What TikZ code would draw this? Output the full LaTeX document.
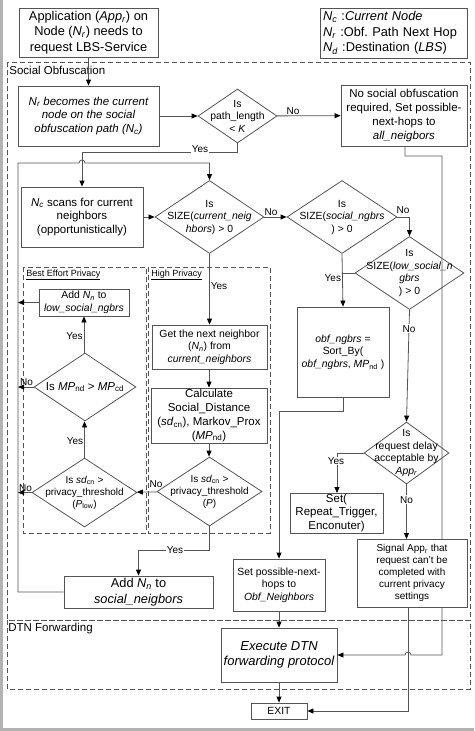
\documentclass[tikz,border=0pt]{standalone}
\usepackage{fontspec}
\setmainfont{Liberation Sans}
\usetikzlibrary{shapes.geometric,arrows.meta}
\definecolor{linegray}{gray}{0.33}
\newcommand{\fbig}{\fontsize{12.8}{15.4}\selectfont}
\newcommand{\fmid}{\fontsize{11.5}{13.8}\selectfont}
\newcommand{\fsml}{\fontsize{10.4}{12.5}\selectfont}
\newcommand{\ftny}{\fontsize{10}{12}\selectfont}
\newcommand{\Nsb}[1]{\textit{N}\textsubscript{\textit{#1}}}
\tikzstyle{box}=[draw=linegray,fill=white,inner sep=0pt,align=center]
\tikzstyle{decision}=[diamond,draw=linegray,inner sep=0pt]
\tikzstyle{dtext}=[inner sep=0pt,align=center,font=\fsml]
\tikzstyle{lab}=[inner sep=1pt,font=\ftny]
\tikzstyle{region}=[draw=linegray,dash pattern=on 5pt off 3pt]

\begin{document}
\begin{tikzpicture}[x=1pt,y=-1pt,line width=0.8pt,
    conn/.style={draw=linegray,-{Triangle[length=6pt,width=5pt,color=black]}},
    link/.style={draw=linegray}]
    \useasboundingbox (0,0) rectangle (474,731);
    \draw[gray!60,line width=3pt] (1.5,0) -- (1.5,729.5) -- (474,729.5);

    \draw[region] (7,62) rectangle (470,620);
    \draw[region] (7,620) rectangle (470,689);
    \draw[region] (23,267) rectangle (146,533);
    \draw[region] (148,267) rectangle (270,533);
    \node[anchor=west,inner sep=0pt,font=\fmid] (lsoc) at (9,70) {Social Obfuscation};
    \node[anchor=west,inner sep=0pt,font=\fmid] (ldtn) at (8,629) {DTN Forwarding};
    \node[anchor=west,inner sep=0pt,font=\fontsize{9}{11}\selectfont] (lbest) at (26,275) {\underline{Best Effort Privacy}};
    \node[anchor=west,inner sep=0pt,font=\fontsize{9}{11}\selectfont] (lhigh) at (151,275) {\underline{High Privacy}};

    \node[box,font=\fbig,minimum width=139pt,minimum height=49pt] (app) at (88.5,32.5)
        {Application (\textit{App}\textsubscript{\textit{r}}) on\\Node (\Nsb{r}) needs to\\request LBS-Service};
    \node[box,font=\fbig,text width=141pt,inner sep=3pt,align=left,minimum height=50pt] (legend) at (393.5,33)
        {\Nsb{c} :\textit{Current Node}\\\Nsb{r} :Obf.\ Path Next Hop\\\Nsb{d} :Destination (\textit{LBS})};

    \node[box,font=\fmid\itshape,minimum width=141pt,minimum height=60pt] (nr) at (88.5,116)
        {\Nsb{r} becomes the current\\node on the social\\obfuscation path (\Nsb{c})};
    \node[decision,minimum width=79pt,minimum height=54pt] (path) at (237.5,116) {};
    \node[dtext] (patht) at (path) {Is\\path\_length\\< \textit{K}};
    \node[box,font=\fmid,minimum width=126pt,minimum height=61pt] (noobf) at (404,115.5)
        {No social obfuscation\\required, Set possible-\\next-hops to\\\textit{all\_neigbors}};

    \node[box,font=\fmid,minimum width=122pt,minimum height=60pt] (scan) at (82,217)
        {\Nsb{c} scans for current\\neighbors\\(opportunistically)};
    \node[decision,minimum width=109pt,minimum height=73pt] (cur) at (209.5,217) {};
    \node[dtext] (curt) at (cur) {Is\\SIZE(\textit{current\_neig}\\\textit{hbors}) > 0};
    \node[decision,minimum width=110pt,minimum height=73pt] (soc) at (342,217) {};
    \node[dtext] (soct) at (soc) {Is\\SIZE(\textit{social\_ngbrs}\\) > 0};
    \node[decision,minimum width=109pt,minimum height=73pt] (low) at (409.5,273) {};
    \node[dtext] (lowt) at (low) {Is\\SIZE(\textit{low\_social\_n}\\\textit{gbrs}\\) > 0};

    \node[box,font=\fsml,minimum width=90pt,minimum height=27pt] (addlow) at (84,302.5)
        {Add \Nsb{n} to\\\textit{low\_social\_ngbrs}};
    \node[decision,minimum width=102pt,minimum height=68pt] (mp) at (85,387) {};
    \node[dtext,font=\fmid] (mpt) at (mp) {Is \textit{MP}\textsubscript{nd} > \textit{MP}\textsubscript{cd}};
    \node[decision,minimum width=105pt,minimum height=69pt] (sdlow) at (84.5,492.5) {};
    \node[dtext,font=\ftny] (sdlowt) at (sdlow) {Is \textit{sd}\textsubscript{cn} >\\privacy\_threshold\\(\textit{P}\textsubscript{low})};

    \node[box,font=\fsml,minimum width=115pt,minimum height=44pt] (next) at (209.5,347)
        {Get the next neighbor\\(\Nsb{n}) from\\\textit{current\_neighbors}};
    \node[box,font=\fmid,minimum width=116pt,minimum height=55pt] (calc) at (209,415.5)
        {Calculate\\Social\_Distance\\(\textit{sd}\textsubscript{cn}), Markov\_Prox\\(\textit{MP}\textsubscript{nd})};
    \node[decision,minimum width=105pt,minimum height=69pt] (sdp) at (209.5,491.5) {};
    \node[dtext,font=\ftny] (sdpt) at (sdp) {Is \textit{sd}\textsubscript{cn} >\\privacy\_threshold\\(\textit{P})};
    \node[box,font=\fbig,minimum width=149pt,minimum height=32pt] (addsoc) at (138.5,592)
        {Add \Nsb{n} to\\\textit{social\_neigbors}};

    \node[box,font=\fsml,minimum width=92pt,minimum height=90pt] (obf) at (343,352)
        {\textit{obf\_ngbrs} =\\Sort\_By(\\\textit{obf\_ngbrs}, \textit{MP}\textsubscript{nd} )};
    \node[decision,minimum width=85pt,minimum height=62pt] (delay) at (406.5,453) {};
    \node[dtext] (delayt) at (delay) {Is\\request delay\\acceptable by\\\textit{App}\textsubscript{\textit{r}}};
    \node[box,font=\fmid,minimum width=93pt,minimum height=40pt] (rep) at (336.5,513)
        {Set(\\Repeat\_Trigger,\\Enconuter)};
    \node[box,font=\fsml,minimum width=92pt,minimum height=52pt] (setnx) at (279,585)
        {Set possible-next-\\hops to\\\textit{Obf\_Neighbors}};
    \node[box,font=\fontsize{13}{15}\selectfont\itshape,minimum width=116pt,minimum height=54pt] (exec) at (279,655)
        {Execute DTN\\forwarding protocol};
    \node[box,font=\fsml,minimum width=56pt,minimum height=16pt] (exit) at (279,711) {EXIT};

    \draw[conn] (app) -- (app.south |- nr.north);
    \draw[conn] (nr) -- (path);
    \draw[conn] (path) -- node[lab,above,pos=0.25] {No} (noobf);
    \draw[conn] (path.south) -- (237.5,152) -- (82,152) -- (scan.north);
    \node[lab,fill=white] (yes1) at (200,149) {Yes};
    \draw[conn] (addsoc.west) -- (18,592) -- (18,163) -- (79,163) arc (180:360:3) -- (209.5,163) -- (cur.north);
    \draw[conn] (scan) -- (cur);
    \draw[conn] (cur) -- node[lab,above,pos=0.3] {No} (soc);
    \draw[conn] (soc.east) -- (409.5,217) -- (low.north);
    \node[lab] (no3) at (403,210) {No};
    \draw[conn] (soc.south) -- node[lab,left,pos=0.45] {Yes} (obf.north);
    \draw[link] (low.west) -- (342,273);
    \draw[conn] (low.south) -- node[lab,fill=white,pos=0.17] {No} (delay.north);
    \draw[conn] (noobf.south -| 405,0) -- (405,156) -- (442,156) -- (442,655) -- (411,655) arc (0:-180:3) -- (exec.east);
    \draw[conn] (delay.west) -- (337,453) -- (337,493);
    \node[lab,fill=white] (yes4) at (336,461) {Yes};
    \draw[conn] (delay.south) -- node[lab,fill=white,pos=0.28] {No} (delay.south |- 0,539);
    \node[box,font=\ftny,minimum width=110pt,minimum height=68pt] (signal) at (412,573)
        {Signal App\textsubscript{\textit{r}} that\\request can't be\\completed with\\current privacy\\settings};
    \draw[conn] (signal.south -| 408,0) -- (408,711) -- (exit.east);
    \draw[conn] (obf.south) -- (343,411) -- (279,411) -- (setnx.north);
    \draw[conn] (setnx) -- (exec);
    \draw[conn] (exec) -- (exit);

    \draw[conn] (cur.south) -- node[lab,right,pos=0.45] {Yes} (next.north -| cur.south);
    \draw[conn] (next.south -| calc.north) -- (calc.north);
    \draw[conn] (calc.south) -- (sdp.north -| calc.south);
    \draw[conn] (sdp) -- (sdlow);
    \node[lab] (no4) at (156,484) {No};
    \draw[conn] (sdp.south) -- (209.5,550) -- (138.5,550) -- (addsoc.north);
    \node[lab,fill=white] (yes5) at (175,550) {Yes};
    \draw[conn] (sdlow.north) -- node[lab,left,pos=0.45] {Yes} (mp.south -| sdlow.north);
    \draw[conn] (mp.north -| addlow.south) -- node[lab,left,pos=0.45] {Yes} (addlow.south);
    \draw[conn] (sdlow.west) -- node[lab,above,pos=0.45] {No} (18,492.5);
    \draw[conn] (mp.west) -- node[lab,above,pos=0.45] {No} (18,387);
    \draw[conn] (addlow.west) -- (18,302.5);
\end{tikzpicture}
\end{document}
